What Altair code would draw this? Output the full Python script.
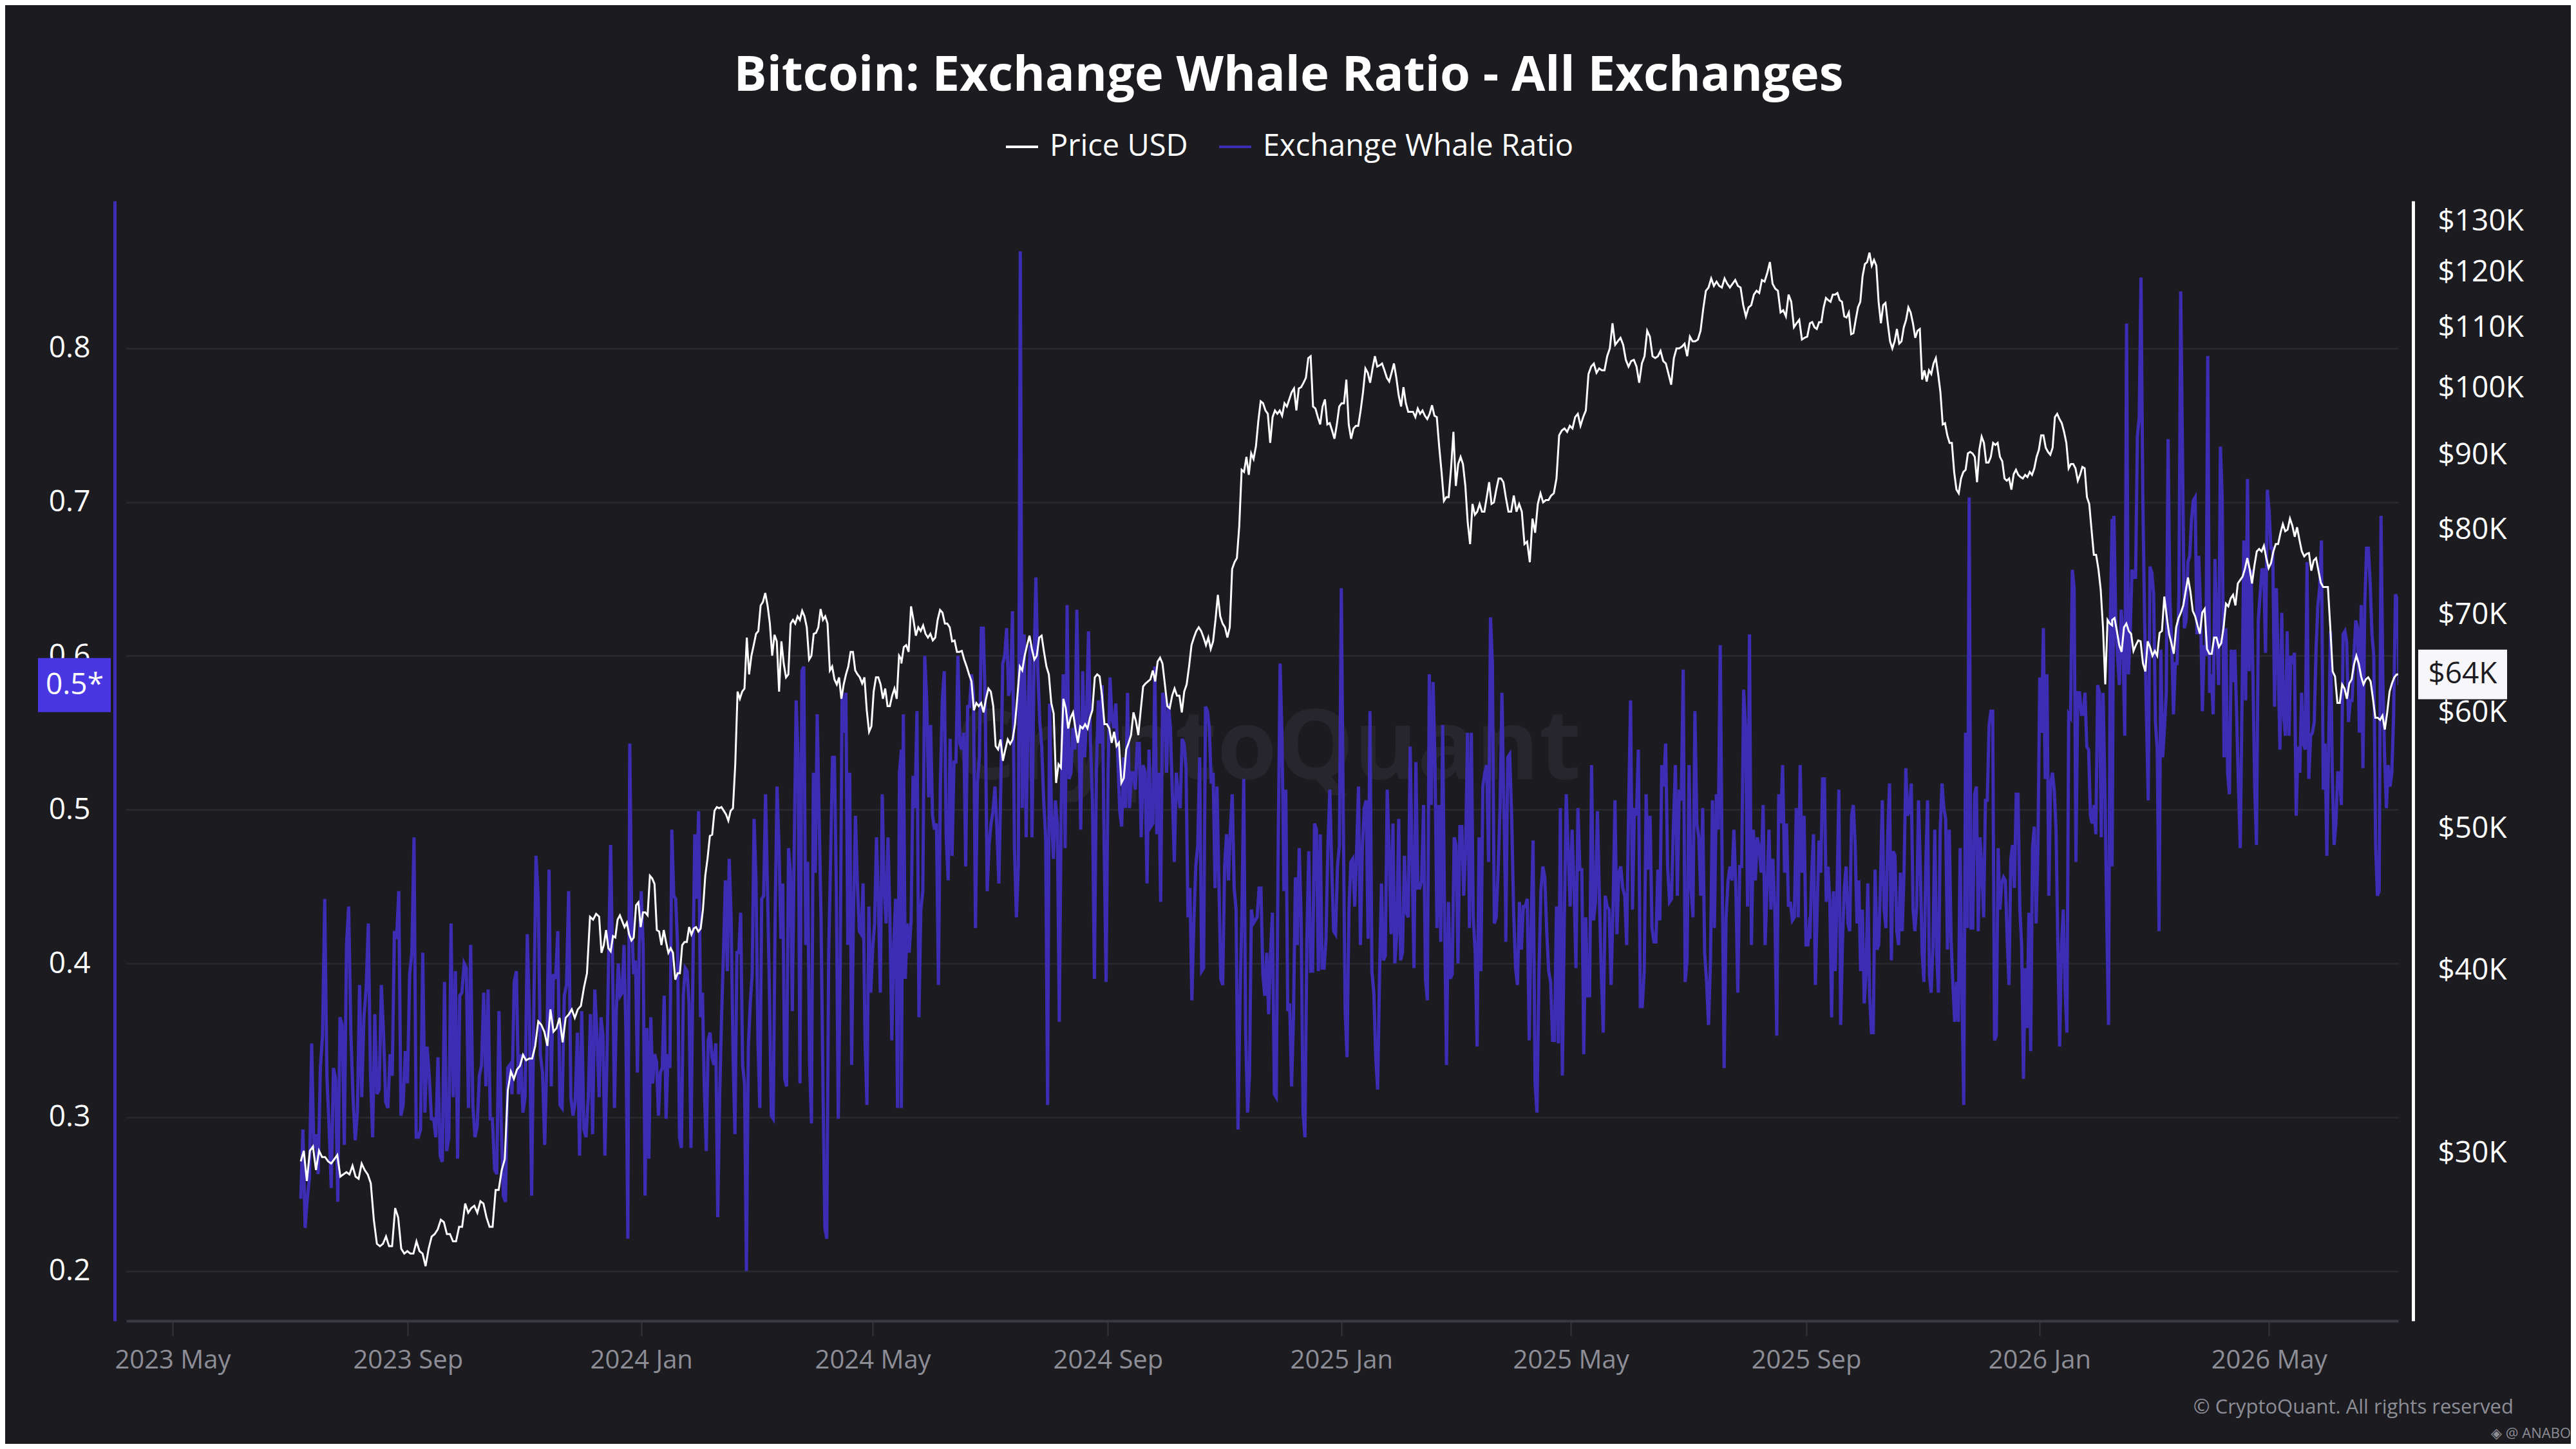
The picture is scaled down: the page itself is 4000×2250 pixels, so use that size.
import altair as alt
import numpy as np
import pandas as pd

# ---------------- data ----------------
SERIES = ["Price USD", "Exchange Whale Ratio"]
TITLE = "Bitcoin: Exchange Whale Ratio - All Exchanges"
CREDIT = "© CryptoQuant. All rights reserved"
HANDLE = "◈ @ ANABO"
WATERMARK = "CryptoQuant"
LAST_RATIO_LABEL = "0.5*"

TICK_DATES = ["2023-05-01", "2023-09-01", "2024-01-01", "2024-05-01", "2024-09-01",
              "2025-01-01", "2025-05-01", "2025-09-01", "2026-01-01", "2026-05-01"]
RATIO_TICKS = [0.2, 0.3, 0.4, 0.5, 0.6, 0.7, 0.8]
PRICE_TICKS = [30, 40, 50, 60, 70, 80, 90, 100, 110, 120, 130]   # thousand USD

# the series are read in seven consecutive blocks of time
SEG_EDGES = ["2023-07-07", "2023-12-10", "2024-05-16", "2024-10-21",
             "2025-03-28", "2025-09-03", "2026-02-08", "2026-07-08"]

RATIO_1 = [.247,.292,.228,.247,.261,.348,.280,.289,.263,.332,.353,.442,.327,.294,.254,.332,.325,.245,.365,.360,.282,.412,.437,.355,.313,.285,.303,.386,.313,.365,.383,.426,.329,.287,.367,.315,.318,.386,.355,.310,.306,.341,.327,.421,.416,.447,.301,.308,.343,.322,.393,.407,.482,.287,.287,.292,.407,.303,.346,.327,.299,.299,.287,.339,.275,.271,.388,.278,.287,.426,.313,.395,.273,.379,.381,.400,.397,.306,.412,.308,.287,.294,.327,.334,.381,.320,.383,.299,.299,.266,.263,.369,.299,.249,.245,.332,.334,.315,.388,.395,.315,.341,.303,.313,.419,.365,.249,.369,.470,.444,.341,.329,.282,.339,.461,.320,.393,.390,.421,.308,.306,.379,.386,.447,.313,.301,.310,.355,.275,.369,.292,.287,.313,.367,.289,.383,.353,.313]
RATIO_2 = [.318,.365,.353,.275,.332,.407,.477,.402,.306,.369,.400,.379,.381,.412,.355,.221,.543,.430,.393,.402,.329,.412,.447,.412,.249,.358,.273,.365,.322,.341,.336,.301,.329,.332,.379,.299,.341,.332,.487,.444,.442,.412,.287,.280,.379,.397,.395,.374,.280,.393,.484,.442,.499,.365,.381,.318,.278,.350,.355,.339,.334,.348,.235,.313,.365,.407,.454,.395,.468,.430,.341,.289,.407,.407,.433,.334,.322,.200,.346,.374,.393,.494,.454,.350,.306,.442,.444,.510,.449,.383,.301,.299,.430,.515,.477,.416,.452,.325,.320,.475,.459,.369,.477,.571,.534,.322,.590,.593,.412,.466,.336,.296,.524,.459,.562,.496,.430,.322,.228,.221,.407,.468,.534,.534,.449,.299,.393,.576,.550,.576,.412,.524,.334,.435,.496,.452,.421,.419,.452,.350,.308,.437,.381,.409,.426,.482,.440,.381,.510,.449,.426,.482,.430,.350,.412,.442,.306,.524,.539]
RATIO_3 = [.306,.562,.390,.426,.407,.428,.522,.501,.564,.365,.435,.447,.600,.571,.508,.555,.496,.487,.491,.386,.515,.571,.590,.482,.454,.546,.470,.531,.531,.600,.543,.539,.550,.463,.567,.567,.588,.576,.423,.517,.534,.618,.618,.571,.447,.477,.491,.499,.515,.487,.452,.515,.595,.600,.618,.574,.581,.629,.475,.430,.463,.863,.501,.614,.482,.567,.607,.482,.590,.651,.590,.557,.541,.506,.482,.308,.569,.496,.468,.506,.491,.362,.503,.588,.475,.633,.520,.524,.553,.539,.630,.555,.487,.590,.534,.562,.616,.543,.506,.390,.524,.571,.543,.581,.477,.388,.524,.586,.560,.553,.569,.534,.499,.489,.534,.501,.576,.501,.524,.524,.513,.543,.543,.482,.529,.524,.452,.539,.489,.491,.593,.484,.524,.440,.576,.569,.524,.569,.553,.510,.466,.524,.510,.501,.546,.543,.527,.430,.449,.376,.426,.463,.477,.534,.395,.397]
RATIO_4 = [.397,.567,.564,.553,.517,.524,.449,.515,.454,.390,.386,.463,.484,.454,.487,.510,.449,.435,.292,.374,.430,.520,.355,.303,.327,.435,.426,.428,.430,.449,.449,.393,.379,.407,.367,.407,.433,.315,.313,.477,.595,.548,.447,.513,.369,.374,.320,.365,.456,.412,.475,.430,.303,.287,.416,.473,.395,.395,.491,.487,.395,.484,.397,.397,.416,.477,.513,.463,.421,.419,.463,.477,.644,.501,.369,.339,.435,.466,.468,.437,.473,.515,.412,.475,.501,.506,.416,.564,.395,.381,.339,.318,.393,.452,.402,.405,.513,.475,.419,.491,.400,.419,.494,.402,.407,.470,.433,.430,.541,.468,.397,.531,.449,.449,.454,.503,.390,.376,.588,.503,.583,.529,.423,.503,.414,.555,.430,.334,.440,.390,.393,.482,.477,.400,.489,.489,.444,.475,.550,.423,.550,.430,.407,.346,.482,.395,.515,.524,.529,.466,.625,.595,.426,.430,.461,.501,.576,.501,.430]
RATIO_5 = [.414,.534,.536,.496,.435,.397,.386,.440,.409,.437,.437,.442,.350,.426,.480,.322,.303,.393,.447,.463,.456,.421,.395,.388,.350,.350,.437,.348,.501,.327,.426,.510,.473,.437,.487,.449,.397,.501,.461,.461,.341,.430,.379,.379,.529,.428,.440,.499,.444,.393,.355,.444,.437,.435,.386,.435,.506,.419,.459,.463,.449,.444,.412,.501,.571,.435,.501,.496,.539,.372,.372,.395,.510,.461,.496,.423,.414,.414,.461,.428,.529,.515,.543,.463,.440,.442,.491,.529,.444,.513,.506,.591,.388,.402,.529,.449,.430,.564,.491,.482,.444,.501,.407,.388,.360,.402,.506,.423,.510,.487,.607,.459,.332,.430,.454,.463,.454,.487,.449,.381,.463,.463,.578,.553,.437,.614,.412,.487,.454,.482,.475,.459,.503,.412,.449,.487,.435,.468,.435,.353,.510,.491,.529,.459,.491,.437,.440,.428,.430,.501,.430,.529,.459,.496,.412,.412,.430]
RATIO_6 = [.416,.459,.484,.386,.435,.480,.459,.520,.520,.440,.463,.440,.365,.447,.395,.447,.513,.360,.414,.449,.463,.426,.421,.496,.503,.477,.426,.454,.395,.435,.374,.393,.452,.379,.355,.355,.461,.409,.412,.454,.506,.435,.423,.484,.517,.402,.473,.470,.421,.412,.459,.421,.459,.527,.496,.501,.517,.435,.421,.437,.506,.463,.407,.388,.463,.506,.393,.381,.412,.487,.407,.381,.487,.517,.501,.494,.409,.487,.416,.386,.362,.388,.362,.475,.381,.308,.550,.423,.703,.423,.423,.510,.515,.421,.482,.461,.430,.506,.506,.555,.564,.564,.350,.353,.475,.435,.452,.456,.454,.416,.386,.468,.477,.449,.510,.510,.435,.412,.325,.397,.358,.433,.343,.475,.489,.426,.475,.586,.550,.618,.520,.588,.444,.517,.524,.513,.487,.412,.346,.412,.435,.383,.355,.562,.560,.656,.644,.466,.576,.576,.562,.562,.576,.541,.539,.496,.491,.503,.484,.581,.576,.482,.576,.515,.430,.360,.623,.689]
RATIO_7 = [.463,.691,.623,.600,.581,.630,.609,.548,.816,.588,.614,.656,.651,.651,.743,.755,.846,.703,.623,.562,.506,.658,.654,.640,.557,.539,.421,.604,.534,.553,.576,.741,.637,.609,.562,.595,.595,.640,.837,.731,.618,.623,.661,.665,.689,.701,.703,.614,.665,.630,.564,.607,.600,.795,.576,.588,.562,.663,.618,.581,.736,.703,.534,.618,.524,.510,.604,.583,.604,.562,.515,.475,.571,.675,.571,.715,.590,.656,.590,.515,.477,.623,.640,.656,.656,.602,.708,.694,.670,.670,.567,.644,.595,.539,.628,.562,.548,.616,.548,.600,.595,.602,.496,.541,.524,.576,.543,.539,.661,.520,.548,.550,.557,.604,.633,.644,.675,.513,.543,.470,.543,.616,.524,.477,.491,.524,.524,.503,.614,.616,.609,.557,.571,.571,.600,.623,.618,.550,.633,.527,.633,.670,.670,.647,.614,.600,.477,.444,.447,.691,.586,.534,.501,.529,.515,.524,.562,.640,.637,.581]

PRICE_1 = [29.6,30.1,28.7,30.1,30.3,29.2,30.1,29.8,29.8,29.6,29.5,29.7,29.9,28.9,29.0,29.1,29.0,29.4,28.9,28.8,29.5,29.2,29.0,28.6,27.0,26.0,25.9,26.0,26.3,25.9,25.9,27.5,27.1,25.8,25.6,25.7,25.6,25.6,26.1,25.7,25.6,25.1,25.8,26.3,26.4,26.6,27.0,26.9,26.4,26.4,26.1,26.1,26.7,26.7,27.7,27.3,27.5,27.6,27.3,27.8,27.7,27.1,26.7,26.7,28.3,28.3,29.2,29.7,33.1,34.1,33.7,34.2,34.4,35.0,34.7,34.8,34.8,35.5,36.9,36.7,36.3,35.5,37.6,36.3,36.5,37.1,35.7,37.1,37.3,37.6,37.1,37.6,37.8,38.9,39.8,43.5,43.3,43.7,43.5]
PRICE_2 = [43.5,41.1,41.6,42.6,41.4,41.2,42.2,42.1,43.3,43.6,43.2,42.8,43.1,42.3,41.9,42.1,44.3,44.5,42.8,43.8,43.8,43.6,46.4,46.2,45.8,42.6,42.5,41.6,42.6,41.8,41.1,41.4,41.1,39.4,39.8,39.8,41.6,41.8,41.8,42.8,42.3,42.7,42.8,42.5,42.7,44.0,46.4,47.7,49.4,49.5,51.4,51.7,51.6,51.7,51.4,51.1,50.6,51.4,51.6,55.3,62.0,61.3,62.0,62.3,67.5,63.7,65.6,66.7,67.9,68.2,71.0,71.4,72.4,71.0,69.0,65.6,67.8,67.1,62.0,67.1,64.8,63.4,63.7,69.0,69.4,69.0,69.8,69.4,70.4,69.8,68.6,65.2,65.6,67.9,68.0,68.6,70.6,69.4,69.8,69.0,64.1,64.5,63.2,62.7,63.4,61.3,62.7,63.7,64.5,66.0,66.0,64.1,63.7,63.4,62.8,63.4,60.2,58.2,58.7,62.0,63.4,63.4,62.7,61.3,62.3,60.6,60.6,61.6,62.3,61.3,65.6,65.2]
PRICE_3 = [64.8,66.5,66.7,66.0,70.9,69.4,67.7,68.6,68.2,68.8,67.9,67.5,67.9,67.2,67.5,69.4,70.5,70.2,69.0,69.0,68.6,67.1,67.2,66.0,66.0,66.1,65.2,64.5,63.7,63.0,60.2,60.9,60.6,60.9,60.0,61.3,62.3,62.0,60.6,56.9,56.6,57.5,55.6,56.6,57.5,57.1,57.5,58.9,61.6,64.5,64.1,65.6,66.7,67.7,66.3,65.2,65.6,67.5,67.7,66.0,64.5,63.7,60.9,59.9,53.7,55.3,55.0,61.3,60.4,58.5,59.5,60.0,58.5,57.2,58.7,58.5,58.9,58.5,59.5,60.2,63.4,63.7,63.5,61.6,58.9,58.9,58.5,57.2,58.2,56.9,57.2,53.7,54.1,56.6,57.2,57.9,60.0,59.2,57.9,60.2,62.5,62.8,63.0,63.2,64.1,63.0,65.0,65.4,64.8,62.7,60.6,60.4,61.6,62.3,61.6,61.6,60.0,62.0,62.7,64.5,66.7,67.5,68.2,68.6,68.2,67.5]
PRICE_4 = [67.5,66.7,67.5,66.3,67.1,69.4,72.2,69.8,69.0,68.6,67.5,68.6,75.2,76.0,76.5,80.5,87.9,87.6,89.7,87.2,90.2,89.4,91.2,94.9,97.9,97.6,96.5,96.0,91.7,95.5,96.5,96.0,96.5,95.7,97.6,97.1,98.2,99.3,99.9,96.5,99.9,100.1,100.8,101.6,104.8,105.1,97.1,96.8,95.5,94.4,97.1,98.2,94.4,94.6,93.5,92.3,94.4,97.1,97.6,97.6,101.3,94.4,92.3,93.8,94.2,94.2,96.5,99.3,103.1,102.4,100.8,103.1,105.1,103.4,103.6,103.9,102.8,101.6,101.0,102.4,103.9,101.6,98.8,97.1,100.1,97.6,96.3,96.3,96.3,95.5,96.8,96.0,96.5,95.7,95.2,96.0,97.3,95.7,95.5,91.2,87.6,83.7,84.2,84.2,88.1,93.3,85.7,88.7,89.7,88.7,85.7,80.9,78.2,83.3,81.9,82.3,83.3,82.3,82.3,84.2,86.2,83.3,83.5,85.2,86.7,86.7,86.2,84.2]
PRICE_5 = [84.2,82.3,82.3,84.4,82.3,83.3,82.3,78.2,78.5,76.0,81.4,79.6,83.3,84.7,83.5,83.8,83.8,84.4,84.7,86.7,92.8,93.5,93.8,93.3,94.2,93.8,95.5,96.0,94.2,95.5,96.5,102.2,103.4,103.9,102.4,103.1,102.8,102.8,105.1,106.4,110.7,107.0,107.6,108.2,107.0,104.5,103.4,104.3,104.5,103.4,100.8,103.9,105.1,109.4,108.4,105.1,104.8,105.1,106.0,104.3,103.9,102.2,100.5,104.8,106.4,106.4,106.7,107.2,105.1,108.4,107.6,107.6,107.9,109.4,113.2,116.5,117.1,118.8,117.4,118.2,117.4,117.1,118.8,117.8,117.1,117.8,118.5,117.4,117.1,113.9,111.9,113.5,113.9,115.8,116.5,116.1,118.5,118.2,119.8,121.9,117.8,116.9,116.5,112.6,113.0,111.9,115.8,114.5,110.0,110.7,111.3,107.9,108.2,108.4,110.7]
PRICE_6 = [110.7,110.9,110.0,109.7,110.9,110.9,113.5,115.2,114.8,114.5,115.8,115.8,116.1,114.8,114.5,111.9,111.7,112.6,108.8,109.0,111.3,113.5,114.5,119.2,121.5,121.9,123.7,121.2,122.3,121.2,114.5,110.7,113.9,114.3,110.7,107.6,106.4,107.6,109.7,107.2,107.6,110.0,111.3,113.5,112.6,110.7,108.2,109.4,109.7,101.3,102.8,101.0,102.8,102.2,103.9,104.8,102.2,99.3,94.4,94.6,92.8,91.7,91.7,87.6,85.2,84.7,86.7,87.6,87.9,90.2,90.4,90.2,89.7,86.2,90.7,92.6,91.7,88.9,88.9,89.7,91.7,91.4,91.7,89.7,89.1,86.7,86.4,86.7,85.2,87.3,87.9,87.2,86.9,86.7,87.2,86.9,87.6,87.2,88.1,89.7,90.7,92.8,92.8,91.0,90.4,90.0,91.0,95.5,96.0,95.2,94.6,93.3,91.7,88.1,88.7,88.7,88.1,86.4,87.2,88.3,88.1,84.2,83.3,80.0,76.9,76.9,75.2,72.8,68.6,62.7,69.4,69.0,68.8]
PRICE_7 = [69.4,69.6,68.2,66.7,66.0,68.6,69.0,68.2,67.9,66.1,66.7,67.2,67.1,64.8,64.0,67.1,66.5,65.6,66.1,65.6,68.0,68.2,72.0,69.8,67.9,66.9,65.8,68.6,69.6,70.2,71.0,72.6,74.2,72.6,70.4,69.8,68.8,67.9,70.2,70.6,66.3,65.8,65.8,67.5,67.5,66.5,66.9,68.6,71.2,70.9,71.8,72.2,71.0,73.5,73.9,74.3,75.2,76.5,75.2,73.5,75.6,77.3,77.6,77.3,78.0,76.5,75.3,75.9,77.3,78.2,78.2,79.6,80.7,79.8,80.0,81.4,80.5,79.1,80.3,78.7,77.3,76.7,77.0,77.1,75.0,76.2,76.5,75.0,73.6,73.1,73.1,73.1,68.6,64.0,63.5,60.9,60.9,62.7,62.3,61.3,62.8,63.2,64.7,65.6,64.8,63.5,62.7,63.2,63.4,63.0,61.3,59.5,59.5,59.3,59.7,58.4,60.0,62.0,62.8,63.4,63.7,63.7]

RATIO_SEGS = [RATIO_1, RATIO_2, RATIO_3, RATIO_4, RATIO_5, RATIO_6, RATIO_7]
PRICE_SEGS = [PRICE_1, PRICE_2, PRICE_3, PRICE_4, PRICE_5, PRICE_6, PRICE_7]


def build(segments, name, series):
    frames = []
    for i, vals in enumerate(segments):
        start = pd.Timestamp(SEG_EDGES[i]).value
        end = pd.Timestamp(SEG_EDGES[i + 1]).value
        dates = pd.to_datetime(np.linspace(start, end, len(vals))).round("min")
        frames.append(pd.DataFrame({"date": dates.strftime("%Y-%m-%dT%H:%M:%S"), name: vals}))
    df = pd.concat(frames, ignore_index=True)
    df["series"] = series
    return df


ratio_df = build(RATIO_SEGS, "ratio", SERIES[1])
price_df = build(PRICE_SEGS, "price", SERIES[0])
last_ratio = ratio_df.tail(1).assign(label=LAST_RATIO_LABEL)
last_price = price_df.tail(1).copy()
last_price["label"] = "$" + last_price["price"].round().astype(int).astype(str) + "K"

# ---------------- styling ----------------
BG = "#1b1b20"
PURPLE = "#3c2db4"
BOX_PURPLE = "#4a37e4"
WHITE = "#ffffff"
GRAY = "#8d8d96"
FONT = "Open Sans"

W, H = 3528, 1739


def dt(s, hours=0):
    y, m, d = (int(p) for p in s.split("-"))
    return alt.DateTime(year=y, month=m, date=d, hours=hours)


x_enc = alt.X(
    "date:T",
    scale=alt.Scale(domain=[dt("2023-04-06", 18), dt("2026-07-07", 14)]),
    axis=alt.Axis(
        values=[dt(s) for s in TICK_DATES],
        labelExpr="timeFormat(datum.value, '%Y %b')",
        title=None, grid=False, labelLimit=600,
        domainColor="#393944", domainWidth=4,
        tickColor="#34343d", tickWidth=2, tickSize=23,
        labelColor=GRAY, labelFont=FONT, labelFontSize=40,
        labelPadding=18, labelBaseline="top",
    ),
)

color_scale = alt.Scale(domain=SERIES, range=[WHITE, PURPLE])
legend = alt.Legend(
    orient="none", legendX=1364, legendY=-111, direction="horizontal",
    title=None, symbolType="stroke", symbolSize=2500, symbolStrokeWidth=4,
    labelFont=FONT, labelFontSize=47, labelColor=WHITE, labelOffset=16,
    labelLimit=1000, columnPadding=40, padding=0,
)
color_enc = alt.Color("series:N", scale=color_scale, legend=legend)

ratio_axis = alt.Axis(
    orient="left", values=RATIO_TICKS, format=".1f", title=None,
    grid=True, gridColor="#2a2a31", gridWidth=2.5,
    domain=True, domainColor=PURPLE, domainWidth=5, offset=18,
    ticks=False, tickSize=0, labelPadding=38, labelLimit=400,
    labelColor=WHITE, labelFont=FONT, labelFontSize=46,
)
ratio_scale = alt.Scale(domain=[0.1676, 0.8958], nice=False, zero=False)
ratio_y = alt.Y("ratio:Q", scale=ratio_scale, axis=ratio_axis)

ratio_line = alt.Chart(ratio_df).mark_line(strokeWidth=5, clip=True).encode(
    x=x_enc, y=ratio_y, color=color_enc,
)
ratio_box = alt.Chart(last_ratio).mark_point(
    shape="M-1,-0.743L1,-0.743L1,0.743L-1,0.743Z", size=12769,
    filled=True, opacity=1, color=BOX_PURPLE, strokeWidth=0,
).encode(x=alt.value(-80.5), y=ratio_y)
ratio_text = alt.Chart(last_ratio).mark_text(
    color=WHITE, font=FONT, fontSize=46, align="center", baseline="middle",
).encode(x=alt.value(-80), y=ratio_y, text="label:N")
ratio_layer = alt.layer(ratio_line, ratio_box, ratio_text)

price_axis = alt.Axis(
    orient="right", values=PRICE_TICKS, title=None,
    labelExpr="'$' + datum.value + 'K'", grid=False,
    domain=True, domainColor=WHITE, domainWidth=5, offset=23,
    ticks=False, tickSize=0, labelPadding=38, labelLimit=400,
    labelColor=WHITE, labelFont=FONT, labelFontSize=46,
)
price_scale = alt.Scale(type="log", domain=[23.03, 134.2], nice=False)
price_y = alt.Y("price:Q", scale=price_scale, axis=price_axis)

price_line = alt.Chart(price_df).mark_line(strokeWidth=3, clip=True).encode(
    x=x_enc, y=price_y, color=color_enc,
)
price_box = alt.Chart(last_price).mark_point(
    shape="M-1,-0.558L1,-0.558L1,0.558L-1,0.558Z", size=19044,
    filled=True, opacity=1, color="#f7f7fb", strokeWidth=0,
).encode(x=alt.value(3628), y=price_y)
price_text = alt.Chart(last_price).mark_text(
    color=BG, font=FONT, fontSize=46, align="center", baseline="middle",
).encode(x=alt.value(3628), y=price_y, text="label:N")
price_layer = alt.layer(price_line, price_box, price_text)

watermark = alt.Chart(pd.DataFrame({"t": [WATERMARK]})).mark_text(
    font=FONT, fontSize=150, fontWeight="bold", color="#26262c",
    align="center", baseline="middle",
).encode(x=alt.value(1772), y=alt.value(853), text="t:N")

credit = alt.Chart(pd.DataFrame({"t": [CREDIT]})).mark_text(
    font=FONT, fontSize=31, color=GRAY, align="right", baseline="alphabetic",
).encode(x=alt.value(3707), y=alt.value(1883), text="t:N")
handle = alt.Chart(pd.DataFrame({"t": [HANDLE]})).mark_text(
    font=FONT, fontSize=22, color=GRAY, align="right", baseline="alphabetic",
).encode(x=alt.value(3796), y=alt.value(1921), text="t:N")

chart = alt.layer(watermark, ratio_layer, price_layer, credit, handle).resolve_scale(
    y="independent"
).properties(
    width=W, height=H,
    autosize=alt.AutoSizeParams(type="none"),
    padding={"left": 188, "top": 304, "right": 268, "bottom": 191},
    title=alt.TitleParams(
        TITLE, font=FONT, fontSize=76, fontWeight="bold", color=WHITE,
        anchor="middle", frame="group", offset=63, dx=41, dy=79,
        baseline="alphabetic",
    ),
).configure(background=BG).configure_view(stroke=None)

chart.save("out.html", embed_options={"renderer": "svg", "actions": False})
